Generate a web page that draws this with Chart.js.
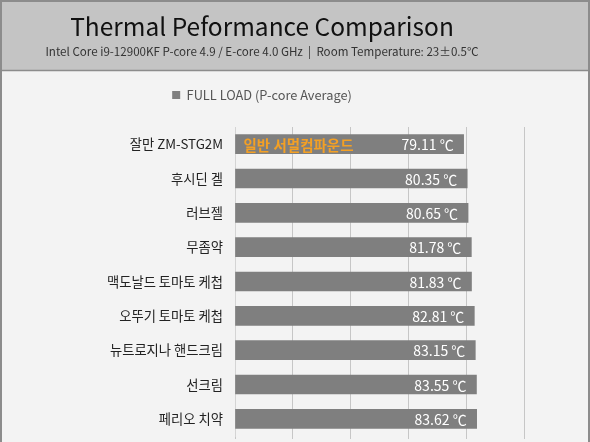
<!DOCTYPE html>
<html>
<head>
<meta charset="utf-8">
<script src="https://cdn.jsdelivr.net/npm/chart.js@4.4.1/dist/chart.umd.min.js"></script>
<style>
html,body{margin:0;padding:0;background:#f3f3f3;overflow:hidden;}
canvas{display:block;}
</style>
</head>
<body>
<canvas id="c" width="590" height="442"></canvas>
<script>
const categories = ["잘만 ZM-STG2M","후시딘 겔","러브젤","무좀약","맥도날드 토마토 케첩","오뚜기 토마토 케첩","뉴트로지나 핸드크림","선크림","페리오 치약"];
const fullLoad = [79.11,80.35,80.65,81.78,81.83,82.81,83.15,83.55,83.62];
const notes = ["일반 서멀컴파운드",null,null,null,null,null,null,null,null];
const xTicks = [0,20,40,60,80,100];
const seriesName = "FULL LOAD (P-core Average)";
const titleText = "Thermal Peformance Comparison";
const subtitleText = "Intel Core i9-12900KF P-core 4.9 / E-core 4.0 GHz  |  Room Temperature: 23±0.5℃";

const FONT = "'Noto Sans CJK KR', 'Noto Sans', sans-serif";

const bgPlugin = {
  id: 'bg',
  beforeLayout(chart){
    const lg = chart.legend;
    if (lg && !lg._wrapped) {
      const orig = lg.fit.bind(lg);
      lg.fit = function(){ orig(); this.height = 48.4; };
      lg._wrapped = true;
    }
  },
  beforeDraw(chart){
    const ctx = chart.ctx, w = chart.width, h = chart.height;
    ctx.save();
    ctx.fillStyle = '#f3f3f3';
    ctx.fillRect(0,0,w,h);
    ctx.fillStyle = '#c4c4c4';
    ctx.fillRect(0,0,w,70);
    ctx.strokeStyle = '#8c8c8c';
    ctx.lineWidth = 1.5;
    ctx.beginPath();
    ctx.moveTo(0,70.5); ctx.lineTo(w,70.5);
    ctx.stroke();
    ctx.restore();
  },
  afterDraw(chart){
    const ctx = chart.ctx, w = chart.width, h = chart.height;
    ctx.save();
    ctx.strokeStyle = '#8c8c8c';
    ctx.lineWidth = 2;
    ctx.beginPath();
    ctx.moveTo(1,h); ctx.lineTo(1,1); ctx.lineTo(w-1,1); ctx.lineTo(w-1,h);
    ctx.stroke();
    ctx.restore();
  }
};

const labelPlugin = {
  id: 'vals',
  afterDatasetsDraw(chart){
    const ctx = chart.ctx;
    const meta = chart.getDatasetMeta(0);
    ctx.save();
    ctx.textBaseline = 'middle';
    meta.data.forEach((bar, i) => {
      ctx.font = "14px " + FONT;
      ctx.fillStyle = '#ffffff';
      ctx.textAlign = 'right';
      ctx.fillText(fullLoad[i].toFixed(2) + ' ℃', bar.x - 10, bar.y + 1);
      if (notes[i]) {
        ctx.font = "bold 14.5px " + FONT;
        ctx.fillStyle = '#f4a024';
        ctx.textAlign = 'left';
        ctx.fillText(notes[i], bar.base + 8, bar.y + 1);
      }
    });
    ctx.restore();
  }
};

new Chart(document.getElementById('c'), {
  type: 'bar',
  data: {
    labels: categories,
    datasets: [{
      label: seriesName,
      data: fullLoad,
      backgroundColor: '#7f7f7f',
      borderWidth: 0,
      barThickness: 19
    }]
  },
  options: {
    indexAxis: 'y',
    responsive: false,
    animation: false,
    devicePixelRatio: 1,
    layout: { padding: { left: 0, right: 66, top: 0, bottom: 0 } },
    plugins: {
      title: {
        display: true,
        text: titleText,
        color: '#111',
        font: { family: FONT, size: 24.5, weight: 'normal', lineHeight: 1.2 },
        padding: { top: 12.3, bottom: 0 }
      },
      subtitle: {
        display: true,
        text: subtitleText,
        color: '#333',
        font: { family: FONT, size: 11.6, weight: 'normal', lineHeight: 1.2 },
        padding: { top: 2.6, bottom: 20.4 }
      },
      legend: {
        display: true,
        position: 'top',
        labels: {
          color: '#555',
          font: { family: FONT, size: 12.8 },
          boxWidth: 8,
          boxHeight: 8,
          padding: 10
        }
      },
      tooltip: { enabled: false }
    },
    scales: {
      x: {
        position: 'bottom',
        min: 0,
        max: 100,
        afterBuildTicks(scale){ scale.ticks = xTicks.map(v => ({value: v})); },
        afterFit(scale){ scale.height = 6; },
        ticks: { display: false },
        border: { display: false },
        grid: {
          color: '#c6c6c6',
          borderDash: [3,3],
          drawTicks: true,
          tickLength: 6,
          tickColor: '#c6c6c6',
          tickBorderDash: [3,3]
        }
      },
      y: {
        afterFit(scale){ scale.width = 235; scale.paddingTop = 0; scale.paddingBottom = 0; },
        ticks: {
          color: '#222',
          font: { family: FONT, size: 13.3 },
          padding: 12
        },
        border: { display: true, color: '#d4d4d4', width: 1 },
        grid: { display: false, drawTicks: false }
      }
    }
  },
  plugins: [bgPlugin, labelPlugin]
});
</script>
</body>
</html>
